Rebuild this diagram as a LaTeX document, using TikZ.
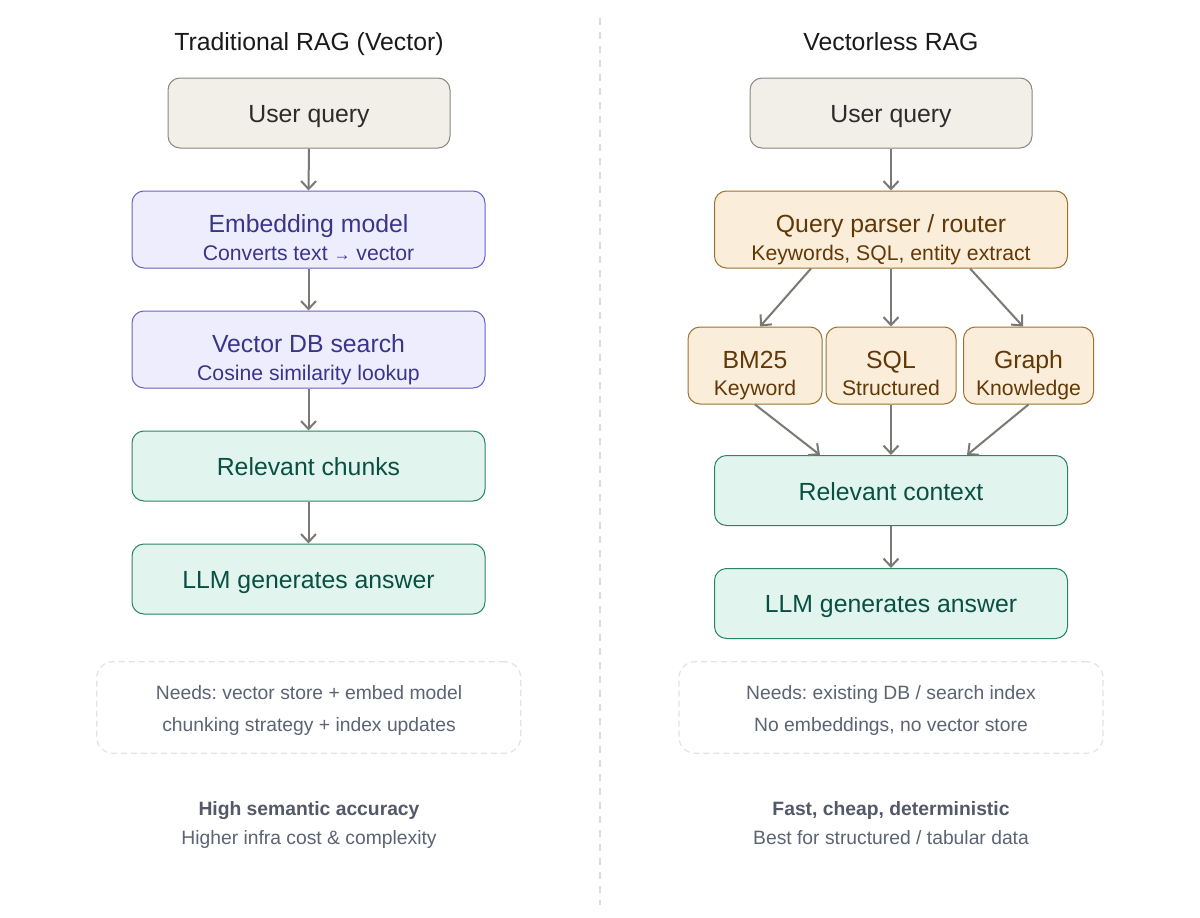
\documentclass[tikz,border=0pt]{standalone}
\usepackage{fontspec}
\setmainfont{Liberation Sans}
\usetikzlibrary{arrows.meta}
\frenchspacing
\definecolor{qfill}{HTML}{F1EFE8}
\definecolor{qdraw}{HTML}{8A8880}
\definecolor{qtext}{HTML}{2C2C2A}
\definecolor{pfill}{HTML}{EEEDFE}
\definecolor{pdraw}{HTML}{6A62C8}
\definecolor{ptext}{HTML}{3C3489}
\definecolor{gfill}{HTML}{E1F5EE}
\definecolor{gdraw}{HTML}{2A8468}
\definecolor{gtext}{HTML}{085041}
\definecolor{afill}{HTML}{FAEEDA}
\definecolor{adraw}{HTML}{A0702E}
\definecolor{atext}{HTML}{633806}
\definecolor{arrc}{HTML}{7A7974}
\definecolor{notec}{HTML}{5C6373}
\definecolor{noteb}{HTML}{E3E3E3}
\definecolor{divc}{HTML}{DADADF}
\definecolor{ttlc}{HTML}{1A1A1A}
\begin{document}
\begin{tikzpicture}[x=1pt,y=-1pt,
  box/.style={rounded corners=12pt, line width=1pt, inner sep=0pt},
  qbox/.style={box, fill=qfill, draw=qdraw},
  pbox/.style={box, fill=pfill, draw=pdraw},
  gbox/.style={box, fill=gfill, draw=gdraw},
  abox/.style={box, fill=afill, draw=adraw},
  big/.style={anchor=base, inner sep=0pt, font=\fontsize{24.8pt}{28pt}\selectfont},
  small/.style={anchor=base, inner sep=0pt, font=\fontsize{21.2pt}{25pt}\selectfont},
  note/.style={anchor=base, inner sep=0pt, text=notec, font=\fontsize{19.3pt}{23pt}\selectfont},
  notebox/.style={draw=noteb, line width=1.2pt, dash pattern=on 6pt off 4pt, rounded corners=16pt},
  arr/.style={draw=arrc, line width=2pt, -{Straight Barb[length=8pt,width=15pt,line width=2pt]}}
]
\useasboundingbox[fill=white] (0,0) rectangle (1200,918);

% divider
\draw[divc, line width=1.5pt, dash pattern=on 7pt off 7pt] (600,18) -- (600,905);

% ---------- Left column ----------
\node[big, text=ttlc] (lt) at (309,50.5) {Traditional RAG (Vector)};

\node[qbox, minimum width=282pt, minimum height=70pt] (lq) at (309,113) {};
\node[big, text=qtext] (lq-t) at (309,122) {User query};

\node[pbox, minimum width=353pt, minimum height=77pt] (emb) at (308.5,229.5) {};
\node[big, text=ptext] (emb-t) at (308.5,232) {Embedding model};
\node[small, text=ptext] (emb-s) at (308.5,260.5) {Converts text \raisebox{0.5pt}{\fontsize{17pt}{17pt}\selectfont →} vector};

\node[pbox, minimum width=353pt, minimum height=77pt] (vdb) at (308.5,349.5) {};
\node[big, text=ptext] (vdb-t) at (308.5,352) {Vector DB search};
\node[small, text=ptext] (vdb-s) at (308.5,380.5) {Cosine similarity lookup};

\node[gbox, minimum width=353pt, minimum height=70pt] (chk) at (308.5,466) {};
\node[big, text=gtext] (chk-t) at (308.5,475) {Relevant chunks};

\node[gbox, minimum width=353pt, minimum height=70pt] (lllm) at (308.5,579) {};
\node[big, text=gtext] (lllm-t) at (308.5,588) {LLM generates answer};

\draw[arr] (lq.south) -- (emb.north);
\draw[arr] (emb.south) -- (vdb.north);
\draw[arr] (vdb.south) -- (chk.north);
\draw[arr] (chk.south) -- (lllm.north);

\node[notebox, minimum width=424pt, minimum height=91.5pt] (ln) at (308.7,707.5) {};
\node[note] (ln-1) at (309,699) {Needs: vector store + embed model};
\node[note] (ln-2) at (309,731) {chunking strategy + index updates};

\node[note, font=\fontsize{19.3pt}{23pt}\bfseries\selectfont, text=notec!90!black] (lb-1) at (309,815.5) {High semantic accuracy};
\node[note] (lb-2) at (309,844) {Higher infra cost \& complexity};

% ---------- Right column ----------
\node[big, text=ttlc] (rt) at (891,50.5) {Vectorless RAG};

\node[qbox, minimum width=282pt, minimum height=70pt] (rq) at (891,113) {};
\node[big, text=qtext] (rq-t) at (891,122) {User query};

\node[abox, minimum width=353pt, minimum height=77pt] (qp) at (891,229.5) {};
\node[big, text=atext] (qp-t) at (891,232) {Query parser / router};
\node[small, text=atext] (qp-s) at (891,260.5) {Keywords, SQL, entity extract};

\node[abox, minimum width=134pt, minimum height=77pt] (bm) at (755,365.5) {};
\node[big, text=atext] (bm-t) at (755,368.5) {BM25};
\node[small, text=atext] (bm-s) at (755,395) {Keyword};

\node[abox, minimum width=130pt, minimum height=77pt] (sql) at (891,365.5) {};
\node[big, text=atext] (sql-t) at (891,368.5) {SQL};
\node[small, text=atext] (sql-s) at (891,395) {Structured};

\node[abox, minimum width=130pt, minimum height=77pt] (gr) at (1028.5,365.5) {};
\node[big, text=atext] (gr-t) at (1028.5,368.5) {Graph};
\node[small, text=atext] (gr-s) at (1028.5,395) {Knowledge};

\node[gbox, minimum width=353pt, minimum height=70pt] (ctx) at (891,490.5) {};
\node[big, text=gtext] (ctx-t) at (891,500) {Relevant context};

\node[gbox, minimum width=353pt, minimum height=70pt] (rllm) at (891,603.5) {};
\node[big, text=gtext] (rllm-t) at (891,612.5) {LLM generates answer};

\draw[arr] (rq.south) -- (qp.north);
\draw[arr] ([xshift=-80pt]qp.south) -- ([xshift=5pt]bm.north);
\draw[arr] (qp.south) -- (sql.north);
\draw[arr] ([xshift=79pt]qp.south) -- ([xshift=-5.5pt]gr.north);
\draw[arr] (bm.south) -- ([xshift=-71pt]ctx.north);
\draw[arr] (sql.south) -- (ctx.north);
\draw[arr] (gr.south) -- ([xshift=76pt]ctx.north);
\draw[arr] (ctx.south) -- (rllm.north);

\node[notebox, minimum width=424pt, minimum height=91.5pt] (rn) at (891,707.5) {};
\node[note] (rn-1) at (891,699) {Needs: existing DB / search index};
\node[note] (rn-2) at (891,731) {No embeddings, no vector store};

\node[note, font=\fontsize{19.3pt}{23pt}\bfseries\selectfont, text=notec!90!black] (rb-1) at (891,815.5) {Fast, cheap, deterministic};
\node[note] (rb-2) at (891,844) {Best for structured / tabular data};
\end{tikzpicture}
\end{document}
